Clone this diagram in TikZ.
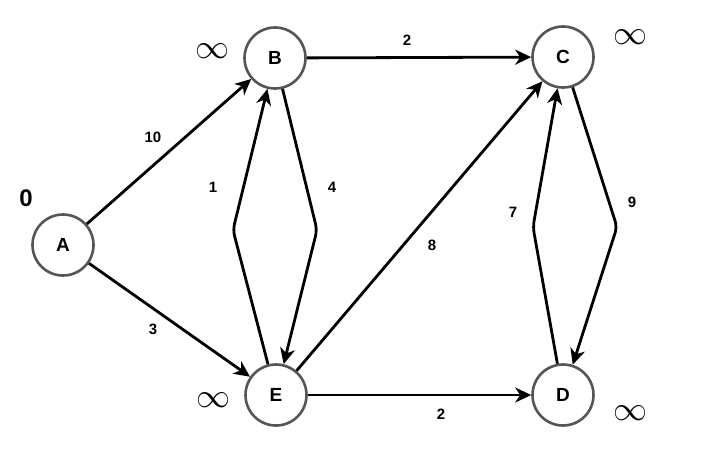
\documentclass[tikz,border=0pt]{standalone}
\usepackage{fontspec}
\setmainfont{Liberation Sans}
\usepackage{xcolor}
\usetikzlibrary{arrows.meta}
\definecolor{ringgray}{RGB}{85,85,85}
\newcommand{\vertexSize}{61}
\newcommand{\vertexList}{A/63/245, B/275/58, C/563/57, D/563/395, E/276/395}
\newcommand{\straightList}{A/B/153/137/10, A/E/153/329/3, B/C/407/40/2, E/C/432/245/8, E/D/441/414/2}
\newcommand{\bentList}{E/B/233/230/213/187/1, B/E/317/230/332/187/4, D/C/533/227/513/212/7, C/D/617/227/632/202/9}
\newcommand{\infList}{B/212/51, C/630/37, D/630/413, E/213/400}
\newcommand{\infMark}{\scalebox{3.4}{$\infty$}}

\begin{document}
\begin{tikzpicture}[x=1pt,y=-1pt,
		vertex/.style={circle, draw=ringgray, line width=2.6pt, fill=white, minimum size=\vertexSize pt, inner sep=0pt, font=\fontsize{19}{19}\selectfont\bfseries},
		link/.style={line width=2.8pt, -{Stealth[length=16pt,width=15pt,inset=5pt]}},
		weight/.style={font=\fontsize{15}{15}\selectfont\bfseries},
		dist/.style={inner sep=0pt}]
		\useasboundingbox (0,0) rectangle (704,458);
		
		\foreach \name/\x/\y in \vertexList
		{
			\node[vertex] (\name) at (\x,\y) {\name};
		}
		\foreach \from/\to/\lx/\ly/\w in \straightList
		{
			\draw[link] (\from) -- (\to);
			\node[weight] (w\from\to) at (\lx,\ly) {\w};
		}
		\foreach \from/\to/\bx/\by/\lx/\ly/\w in \bentList
		{
			\draw[link, rounded corners=6pt] (\from) -- (\bx,\by) -- (\to);
			\node[weight] (w\from\to) at (\lx,\ly) {\w};
		}
		
		\node[font=\fontsize{24}{24}\selectfont\bfseries] (distA) at (26,198) {0};
		\foreach \name/\x/\y in \infList
		{
			\node[dist] (inf\name) at (\x,\y) {\infMark}; % distance not yet known
		}
	\end{tikzpicture}
\end{document}
